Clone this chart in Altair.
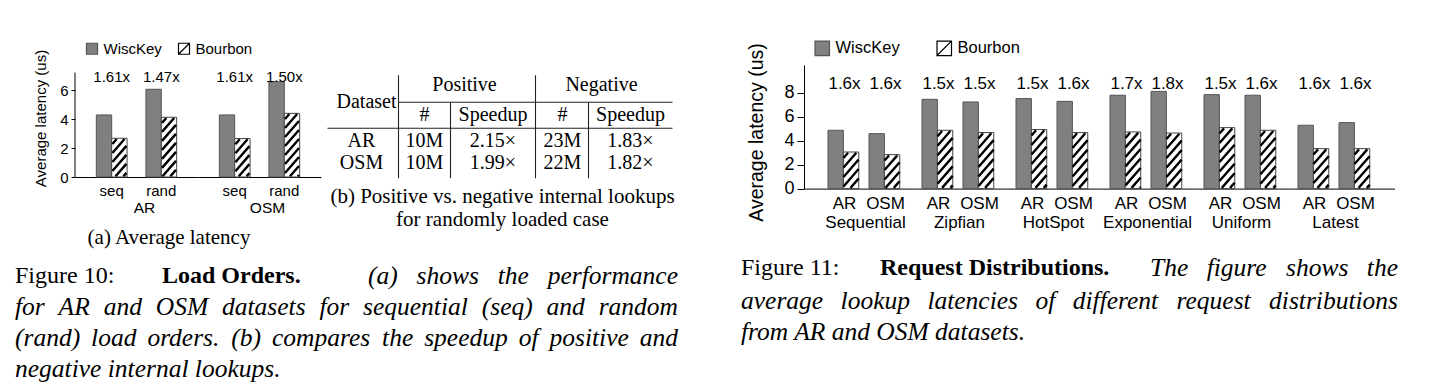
import altair as alt
import pandas as pd

# ---------------- data ----------------
SERIES = ["WiscKey", "Bourbon"]

A_DATASETS = ["AR", "OSM"]
A_ORDERS = ["seq", "rand"]
A_WISCKEY = [4.28, 6.05, 4.28, 6.57]      # AR seq, AR rand, OSM seq, OSM rand
A_BOURBON = [2.67, 4.12, 2.65, 4.39]
A_SPEEDUP = ["1.61x", "1.47x", "1.61x", "1.50x"]
A_YTICKS = [0, 2, 4, 6]

C_DISTS = ["Sequential", "Zipfian", "HotSpot", "Exponential", "Uniform", "Latest"]
C_DATASETS = ["AR", "OSM"]
C_WISCKEY = [4.86, 4.58, 7.44, 7.22, 7.50, 7.27, 7.78, 8.10, 7.83, 7.78, 5.28, 5.50]
C_BOURBON = [3.05, 2.83, 4.86, 4.67, 4.92, 4.67, 4.72, 4.63, 5.08, 4.86, 3.33, 3.33]
C_SPEEDUP = ["1.6x", "1.6x", "1.5x", "1.5x", "1.5x", "1.6x",
             "1.7x", "1.8x", "1.5x", "1.6x", "1.6x", "1.6x"]
C_YTICKS = [0, 2, 4, 6, 8]

Y_TITLE = "Average latency (us)"

TBL_HEAD_TOP = ["Positive", "Negative"]
TBL_HEAD_SUB = ["#", "Speedup", "#", "Speedup"]
TBL_FIRST_COL = "Dataset"
TBL_DATASETS = ["AR", "OSM"]
TBL_POS_N = ["10M", "10M"]
TBL_POS_SPEEDUP = ["2.15×", "1.99×"]
TBL_NEG_N = ["23M", "22M"]
TBL_NEG_SPEEDUP = ["1.83×", "1.82×"]

SUBCAP_A = "(a) Average latency"
SUBCAP_B = ["(b) Positive vs. negative internal lookups", "for randomly loaded case"]

FIG10_LABEL = "Figure 10:"
FIG10_TITLE = "Load Orders."
FIG10_LINES = [
    "(a) shows the performance",
    "for AR and OSM datasets for sequential (seq) and random",
    "(rand) load orders. (b) compares the speedup of positive and",
    "negative internal lookups.",
]
FIG11_LABEL = "Figure 11:"
FIG11_TITLE = "Request Distributions."
FIG11_LINES = [
    "The figure shows the",
    "average lookup latencies of different request distributions",
    "from AR and OSM datasets.",
]

# ---------------- styles & layout (page pixels) ----------------
SANS = "Liberation Sans"
SERIF = "Liberation Serif"
WISC_FILL = "#808080"
WISC_STROKE = "#555555"
BOUR_STROKE = "#444444"
SQ = "M-1,-1L1,-1L1,1L-1,1Z"
SQ_DIAG = "M-1,-1L1,-1L1,1L-1,1Z M-1,1L1,-1"

PAGE = 8.0
ROW_TOP = 64.7

A_LEFT = 74.5
A_W = 123.0
A_H = 112.0
A_PPU = 14.5
A_YMAX = A_H / A_PPU
A_AXIS_END = 7.2
A_PI, A_PO = 0.38, 0.43
A_SUBW = A_W / (2 - A_PI + 2 * A_PO) * (1 - A_PI) / 2
A_FS = 15.0

C_LEFT = 803.0
C_WIDTHS = [108.0, 94.0, 94.0, 94.0, 94.0, 106.5]
C_CENTERS = [61.0, 47.0, 47.0, 47.0, 47.0, 47.0]
C_H = 123.6
C_PPU = 12.0
C_YMAX = C_H / C_PPU
C_STEP, C_BAND = 41.0, 33.0
C_PI = (C_STEP - C_BAND) / C_STEP
C_SUBW = C_BAND / 2

B_LEFT = A_LEFT + 2 * A_W
B_W = C_LEFT - B_LEFT
B_H = 150.0

CAP_FS = 25.5        # italic caption body
CAP_HEAD_FS = 24.0   # "Figure N:" and bold title
TBL_FS = 20.0
SUBCAP_FS = 21.0

ITALIC_W = {
    " ": 250, "(": 333, ")": 333, ",": 250, ".": 250, ":": 333,
    "A": 611, "B": 611, "C": 667, "D": 722, "E": 611, "F": 611, "G": 722, "H": 722,
    "I": 333, "J": 444, "K": 667, "L": 556, "M": 833, "N": 667, "O": 722, "P": 611,
    "Q": 722, "R": 611, "S": 500, "T": 556, "U": 722, "V": 611, "W": 833, "X": 611,
    "Y": 556, "Z": 556,
    "a": 500, "b": 500, "c": 444, "d": 500, "e": 444, "f": 278, "g": 500, "h": 500,
    "i": 278, "j": 278, "k": 444, "l": 278, "m": 722, "n": 500, "o": 500, "p": 500,
    "q": 500, "r": 389, "s": 389, "t": 278, "u": 500, "v": 444, "w": 667, "x": 444,
    "y": 444, "z": 389,
}


def italic_width(word, fs):
    return sum(ITALIC_W.get(ch, 500) for ch in word) * fs / 1000.0


def justify(line, x0, x1, y, fs):
    words = line.split(" ")
    widths = [italic_width(w, fs) for w in words]
    gap = (x1 - x0 - sum(widths)) / max(1, len(words) - 1)
    rows, x = [], x0
    for w, wd in zip(words, widths):
        rows.append((w, x, y))
        x += wd + gap
    return rows


def hatch_path(w, h, gap, slope=1.15, inset=0.7):
    x0, x1 = -w / 2 + inset, w / 2 - inset
    y0, y1 = -h / 2 + inset, h / 2 - inset
    parts = []
    c = y0 + slope * x0 + gap * 0.55
    cmax = y1 + slope * x1
    while c < cmax:
        xa = max(x0, (c - y1) / slope)
        xb = min(x1, (c - y0) / slope)
        if xb - xa > 0.3:
            parts.append(f"M{xa:.2f},{c - slope * xa:.2f}L{xb:.2f},{c - slope * xb:.2f}")
        c += gap
    return "".join(parts) if parts else "M0,0"


# ---------------- data frames ----------------
a_rows = []
for i, ds in enumerate(A_DATASETS):
    for j, od in enumerate(A_ORDERS):
        k = i * len(A_ORDERS) + j
        for s, v in zip(SERIES, [A_WISCKEY[k], A_BOURBON[k]]):
            a_rows.append(dict(dataset=ds, order=od, series=s, value=v, mid=v / 2,
                               speedup=A_SPEEDUP[k]))
a_df = pd.DataFrame(a_rows)

c_rows = []
for i, dist in enumerate(C_DISTS):
    for j, ds in enumerate(C_DATASETS):
        k = i * len(C_DATASETS) + j
        for s, v in zip(SERIES, [C_WISCKEY[k], C_BOURBON[k]]):
            c_rows.append(dict(dist=dist, dataset=ds, series=s, value=v, mid=v / 2,
                               speedup=C_SPEEDUP[k]))
c_df = pd.DataFrame(c_rows)


def bar_unit(df, xfield, xdomain, xscale, xaxis, ymax, yaxis, label_y, label_fs,
             sub_w, ppu, gap, legend=None, axis_line=None):
    X = alt.X(f"{xfield}:N", sort=xdomain, scale=xscale, axis=xaxis)
    XO = alt.XOffset("series:N", sort=SERIES, scale=alt.Scale(domain=SERIES))

    def Y(field):
        return alt.Y(f"{field}:Q", scale=alt.Scale(domain=[0, ymax], nice=False, zero=True),
                     axis=yaxis)

    base = alt.Chart(df)
    layers = [
        base.mark_bar(fill=WISC_FILL, stroke=WISC_STROKE, strokeWidth=1)
        .encode(x=X, xOffset=XO, y=Y("value"))
        .transform_filter(alt.datum.series == "WiscKey"),
        base.mark_bar(fill="white", stroke=BOUR_STROKE, strokeWidth=1)
        .encode(x=X, xOffset=XO, y=Y("value"))
        .transform_filter(alt.datum.series == "Bourbon"),
    ]
    # diagonal hatching of every Bourbon bar, one symbol per bar
    for cat in xdomain:
        v = float(df[(df[xfield] == cat) & (df.series == "Bourbon")].value.iloc[0])
        layers.append(
            base.mark_point(filled=False, stroke="black", strokeWidth=2.4, size=4, opacity=1,
                            shape=hatch_path(sub_w, v * ppu, gap))
            .encode(x=X, xOffset=XO, y=Y("mid"))
            .transform_filter((alt.datum.series == "Bourbon") & (alt.datum[xfield] == cat))
        )
    layers.append(
        base.mark_text(font=SANS, fontSize=label_fs, color="black", baseline="middle")
        .encode(x=X, y=alt.value(label_y), text="speedup:N")
        .transform_filter(alt.datum.series == "WiscKey")
    )
    if axis_line is not None:
        ldf = pd.DataFrame({"y0": [0.0], "y1": [axis_line]})
        layers.append(
            alt.Chart(ldf).mark_rule(color="black", strokeWidth=1)
            .encode(x=alt.value(0), y=Y("y0"), y2=alt.Y2("y1:Q"))
        )
    if legend is not None:
        layers.append(
            base.mark_point(filled=True, opacity=0)
            .encode(
                x=X, xOffset=XO, y=Y("value"),
                fill=alt.Fill("series:N", scale=alt.Scale(domain=SERIES, range=[WISC_FILL, "white"]), legend=legend),
                shape=alt.Shape("series:N", scale=alt.Scale(domain=SERIES, range=[SQ, SQ_DIAG]), legend=legend),
                stroke=alt.Stroke("series:N", scale=alt.Scale(domain=SERIES, range=[WISC_STROKE, "black"]), legend=legend),
            )
        )
    return alt.layer(*layers)


def x_axis(title, title_x, fs, title_fs, label_pad, title_pad):
    return alt.Axis(title=title, titleX=title_x, titleAlign="center", titleFont=SANS,
                    titleFontSize=title_fs, titleFontWeight="normal", titleColor="black",
                    titlePadding=title_pad, labelAngle=0, labelFont=SANS, labelFontSize=fs,
                    labelColor="black", labelPadding=label_pad, ticks=False, tickSize=0,
                    domainColor="black", domainWidth=1, grid=False)


# ---------------- chart (a) ----------------
a_units = []
for i, ds in enumerate(A_DATASETS):
    yaxis = None
    legend = None
    axis_line = None
    if i == 0:
        yaxis = alt.Axis(values=A_YTICKS, title=Y_TITLE, titleFont=SANS, titleFontSize=15,
                         titleFontWeight="normal", titleColor="black", titlePadding=11,
                         titleY=53, labelFont=SANS, labelFontSize=15, labelColor="black",
                         labelPadding=3, tickSize=4, tickColor="black", domain=False, grid=False)
        legend = alt.Legend(title=None, orient="none", legendX=9.5, legendY=-24, columns=2,
                            columnPadding=13, labelFont=SANS, labelFontSize=15,
                            labelColor="black", labelOffset=4, symbolSize=121,
                            symbolStrokeWidth=1.2, symbolOpacity=1, padding=0, rowPadding=0)
        axis_line = A_AXIS_END
    xscale = alt.Scale(domain=A_ORDERS, paddingInner=A_PI, paddingOuter=A_PO)
    unit = bar_unit(a_df[a_df.dataset == ds], "order", A_ORDERS, xscale,
                    x_axis(ds, 69, A_FS, 15.5, 6, 2), A_YMAX, yaxis,
                    77 - ROW_TOP, A_FS, A_SUBW, A_PPU, 9.0,
                    legend=legend, axis_line=axis_line)
    a_units.append(unit.properties(width=A_W, height=A_H))

# ---------------- chart (c) ----------------
c_units = []
for i, dist in enumerate(C_DISTS):
    w = C_WIDTHS[i]
    center = C_CENTERS[i]
    po = (w / C_STEP - (2 - C_PI)) / 2
    leftover = w - C_STEP * (2 - C_PI)
    align = (center - C_STEP / 2 - C_BAND / 2) / leftover
    xscale = alt.Scale(domain=C_DATASETS, paddingInner=C_PI, paddingOuter=po, align=align)
    yaxis = None
    legend = None
    if i == 0:
        yaxis = alt.Axis(values=C_YTICKS, title=Y_TITLE, titleFont=SANS, titleFontSize=19.5,
                         titleFontWeight="normal", titleColor="black", titlePadding=17,
                         titleY=67, labelFont=SANS, labelFontSize=18, labelColor="black",
                         labelPadding=3, tickSize=7, tickColor="black", domainColor="black",
                         grid=False)
        legend = alt.Legend(title=None, orient="none", legendX=10, legendY=-25, columns=2,
                            columnPadding=34, labelFont=SANS, labelFontSize=16.5,
                            labelColor="black", labelOffset=5, symbolSize=210,
                            symbolStrokeWidth=1.2, symbolOpacity=1, padding=0, rowPadding=0)
    unit = bar_unit(c_df[c_df.dist == dist], "dataset", C_DATASETS, xscale,
                    x_axis(dist, center, 17, 17, 7, 3), C_YMAX, yaxis,
                    83.3 - ROW_TOP, 17, C_SUBW, C_PPU, 9.5, legend=legend)
    c_units.append(unit.properties(width=w, height=C_H))


# ---------------- text canvases ----------------
def text_layer(rows, origin, font, size, align="center", style="normal", weight="normal"):
    ox, oy = origin
    df = pd.DataFrame({"text": [r[0] for r in rows],
                       "x": [r[1] - ox for r in rows],
                       "y": [r[2] - oy for r in rows]})
    return alt.Chart(df).mark_text(font=font, fontSize=size, align=align, baseline="middle",
                                   fontStyle=style, fontWeight=weight, color="black").encode(
        x=alt.X("x:Q", scale=None), y=alt.Y("y:Q", scale=None), text="text:N")


def rule_layer(segs, origin, color="#222222", width=1.1):
    ox, oy = origin
    df = pd.DataFrame({"x": [s[0] - ox for s in segs], "y": [s[1] - oy for s in segs],
                       "x2": [s[2] - ox for s in segs], "y2": [s[3] - oy for s in segs]})
    return alt.Chart(df).mark_rule(color=color, strokeWidth=width).encode(
        x=alt.X("x:Q", scale=None), y=alt.Y("y:Q", scale=None), x2="x2:Q", y2="y2:Q")


def blank_box(x0, y0, x1, y1):
    df = pd.DataFrame({"x": [x0], "y": [y0], "x2": [x1], "y2": [y1]})
    return alt.Chart(df).mark_rect(opacity=0).encode(
        x=alt.X("x:Q", scale=None), y=alt.Y("y:Q", scale=None), x2="x2:Q", y2="y2:Q")


# table (b)
B_ORIGIN = (B_LEFT, ROW_TOP)
COL_X = [361.0, 424.0, 492.5, 562.0, 630.0]
HEAD_TOP_X = [464.0, 601.0]
Y_HEAD1, Y_HEAD2, Y_DATASET = 85.0, 115.0, 102.0
ROW_Y = [141.0, 163.0]

cells = [(TBL_FIRST_COL, 366.0, Y_DATASET)]
cells += [(t, x, Y_HEAD1) for t, x in zip(TBL_HEAD_TOP, HEAD_TOP_X)]
cells += [(t, x, Y_HEAD2) for t, x in zip(TBL_HEAD_SUB, COL_X[1:])]
for r, y in enumerate(ROW_Y):
    vals = [TBL_DATASETS[r], TBL_POS_N[r], TBL_POS_SPEEDUP[r], TBL_NEG_N[r], TBL_NEG_SPEEDUP[r]]
    cells += [(t, x, y) for t, x in zip(vals, COL_X)]

table_lines = [
    (398, 75, 398, 178), (535, 75, 535, 178),
    (450, 102, 450, 178), (588, 102, 588, 178),
    (398, 102, 672, 102), (327, 128, 672, 128),
]
subcap_b = [(SUBCAP_B[0], 502.0, 197.0), (SUBCAP_B[1], 502.0, 220.0)]

table_chart = alt.layer(
    rule_layer(table_lines, B_ORIGIN),
    text_layer(cells, B_ORIGIN, SERIF, TBL_FS),
    text_layer(subcap_b, B_ORIGIN, SERIF, SUBCAP_FS),
).properties(width=B_W, height=B_H)

# captions live in the first (left) cell and run to the right under the charts
CAP_ORIGIN = (PAGE, ROW_TOP)
cap_regular = [(FIG10_LABEL, 15.0, 276.0), (FIG11_LABEL, 741.0, 268.0)]
cap_bold = [(FIG10_TITLE, 162.0, 276.0), (FIG11_TITLE, 880.0, 268.0)]
cap_italic = []
cap_italic += justify(FIG10_LINES[0], 368.0, 678.0, 276.0, CAP_FS)
cap_italic += justify(FIG10_LINES[1], 15.0, 678.0, 306.5, CAP_FS)
cap_italic += justify(FIG10_LINES[2], 15.0, 678.0, 338.0, CAP_FS)
cap_italic += [(FIG10_LINES[3], 15.0, 369.0)]
cap_italic += justify(FIG11_LINES[0], 1150.0, 1398.0, 268.0, CAP_FS)
cap_italic += justify(FIG11_LINES[1], 741.0, 1398.0, 300.5, CAP_FS)
cap_italic += [(FIG11_LINES[2], 741.0, 332.0)]

left_canvas = alt.layer(
    blank_box(0, PAGE - ROW_TOP, 1, 0),
    text_layer([(SUBCAP_A, 169.0, 238.0)], CAP_ORIGIN, SERIF, SUBCAP_FS),
    text_layer(cap_regular, CAP_ORIGIN, SERIF, CAP_HEAD_FS, align="left"),
    text_layer(cap_bold, CAP_ORIGIN, SERIF, CAP_HEAD_FS, align="left", weight="bold"),
    text_layer(cap_italic, CAP_ORIGIN, SERIF, CAP_FS, align="left", style="italic"),
).properties(width=A_LEFT - PAGE, height=10)

chart = alt.hconcat(
    left_canvas, a_units[0], a_units[1], table_chart, *c_units,
    spacing=0, bounds="flush", padding=0,
).resolve_scale(
    fill="independent", shape="independent", stroke="independent"
).configure_view(stroke=None)

chart.save("out.html", embed_options={"renderer": "svg", "actions": False})
